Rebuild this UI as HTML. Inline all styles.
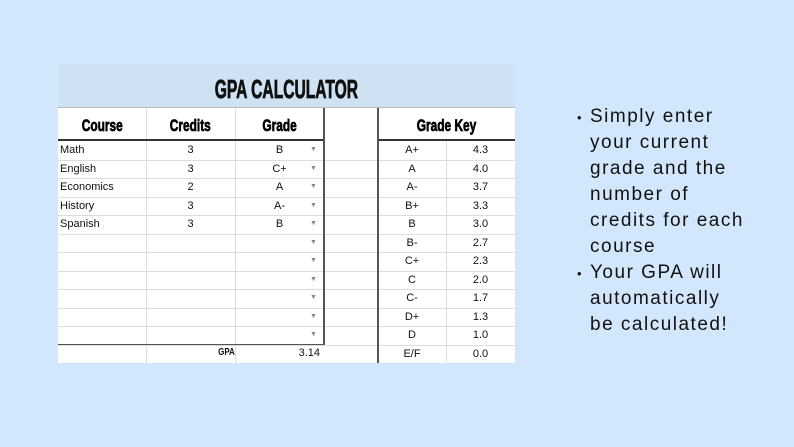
<!DOCTYPE html>
<html><head><meta charset="utf-8"><style>
body{margin:0;width:794px;height:447px;background:#d2e7fc;position:relative;overflow:hidden;font-family:"Liberation Sans",sans-serif;}
.a{position:absolute}
.sheet{left:58px;top:64px;width:457px;height:299px;background:#fff}
.title{left:58px;top:64px;width:457px;height:43px;background:#cfe2f3;text-align:center;line-height:50px;font-weight:bold;font-size:26px;color:#111;-webkit-text-stroke:0.8px #111}
.title span{display:inline-block;transform:scaleX(0.6)}
.hl{background:#dcdcdc;height:1px}
.vl{background:#dcdcdc;width:1px}
.h{font-weight:bold;font-size:17px;text-align:center;color:#000;-webkit-text-stroke:0.7px #000}
.h span{display:inline-block;transform:scaleX(0.7)}
.c{font-size:11px;color:#111;height:18px;line-height:18px}
.arr{font-size:7px;color:#888;}
.t{left:590px;font-size:19px;letter-spacing:1.5px;color:#111;line-height:26px}
.b{left:577px;font-size:13px;color:#111}
</style></head><body>
<div class="a sheet"></div>
<div class="a title"><span>GPA CALCULATOR</span></div>
<div class="a h" style="left:58px;top:116px;width:88px"><span>Course</span></div>
<div class="a h" style="left:146px;top:116px;width:89px"><span>Credits</span></div>
<div class="a h" style="left:235px;top:116px;width:89px"><span>Grade</span></div>
<div class="a h" style="left:378px;top:116px;width:137px"><span>Grade Key</span></div>
<div id="g"></div>
<div class="a" style="left:58px;top:139px;width:266px;height:2px;background:#333"></div>
<div class="a" style="left:378px;top:139px;width:137px;height:2px;background:#333"></div>
<div class="a" style="left:323px;top:107px;width:2px;height:238px;background:#555"></div>
<div class="a" style="left:58px;top:344px;width:266px;height:1px;background:#555"></div>
<div class="a" style="left:377px;top:107px;width:2px;height:256px;background:#555"></div>
<div class="a" style="left:58px;top:107px;width:457px;height:1px;background:#bbb"></div>
<script>
var g='';var tops=[141,159.5,178,196.5,215,233.5,252,270.5,289,307.5,326,344.5,363];
for(var i=1;i<tops.length-1;i++){g+='<div class="a hl" style="left:58px;top:'+Math.round(tops[i])+'px;width:457px"></div>';}
[146,235].forEach(function(x){g+='<div class="a vl" style="left:'+x+'px;top:107px;height:256px"></div>';});
g+='<div class="a vl" style="left:446px;top:141px;height:222px"></div>';
var rows=[["Math","3","B"],["English","3","C+"],["Economics","2","A"],["History","3","A-"],["Spanish","3","B"]];
var key=[["A+","4.3"],["A","4.0"],["A-","3.7"],["B+","3.3"],["B","3.0"],["B-","2.7"],["C+","2.3"],["C","2.0"],["C-","1.7"],["D+","1.3"],["D","1.0"],["E/F","0.0"]];
for(var i=0;i<12;i++){var y=Math.round(tops[i]);
 if(i<5){var r=rows[i];
  g+='<div class="a c" style="left:60px;top:'+y+'px">'+r[0]+'</div>';
  g+='<div class="a c" style="left:146px;width:89px;text-align:center;top:'+y+'px">'+r[1]+'</div>';
  g+='<div class="a c" style="left:235px;width:89px;text-align:center;top:'+y+'px">'+r[2]+'</div>';}
 if(i<11)g+='<div class="a c arr" style="left:310px;top:'+y+'px">&#9660;</div>';
 g+='<div class="a c" style="left:378px;width:68px;text-align:center;top:'+y+'px">'+key[i][0]+'</div>';
 g+='<div class="a c" style="left:446px;width:69px;text-align:center;top:'+y+'px">'+key[i][1]+'</div>';}
g+='<div class="a c" style="left:216px;top:344px;font-weight:bold;font-size:10px;transform:scaleX(0.8)">GPA</div>';
g+='<div class="a c" style="left:280px;width:40px;text-align:right;top:344px">3.14</div>';
document.getElementById('g').innerHTML=g;
</script>
<div class="a b" style="top:110px">•</div>
<div class="a t" style="top:104px">Simply enter<br>your current<br>grade and the<br>number of<br>credits for each<br>course</div>
<div class="a b" style="top:266px">•</div>
<div class="a t" style="top:260px">Your GPA will<br>automatically<br>be calculated!</div>
</body></html>
